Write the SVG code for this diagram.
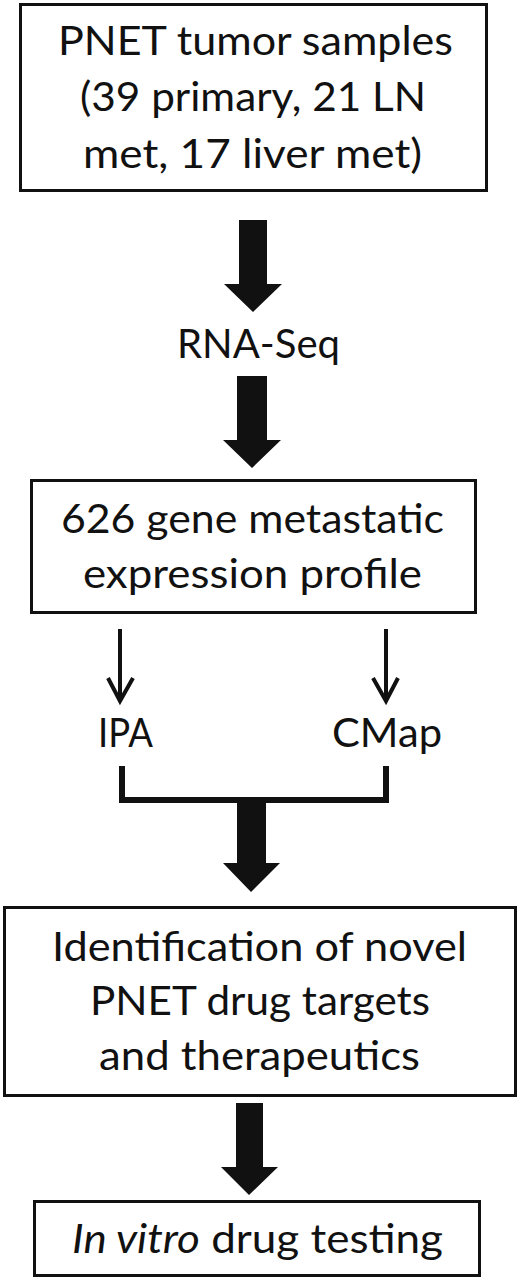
<svg xmlns="http://www.w3.org/2000/svg" width="520" height="1279" viewBox="0 0 520 1279">
<style>
.box{fill:#fff;stroke:#111;stroke-width:3}
.t{font-family:Lato,"Open Sans","Liberation Sans",sans-serif;font-size:40px;fill:#111;text-anchor:middle}
.thick{fill:#111}
.thin{fill:none;stroke:#111;stroke-width:4}
</style>
<rect width="520" height="1279" fill="#fff"/>
<g id="connectors">
<polygon class="thick" points="239,220 267,220 267,284 282,284 253,312 224,284 239,284"/>
<polygon class="thick" points="237,376 267,376 267,440 281,440 252,468 223,440 237,440"/>
<line class="thin" x1="120" y1="629" x2="120" y2="701"/>
<path class="thin" d="M108,678 L120,701 L133,678"/>
<line class="thin" x1="386" y1="629" x2="386" y2="701"/>
<path class="thin" d="M373,678 L386,701 L398,678"/>
<path d="M122,766 V800 H386 V766" fill="none" stroke="#111" stroke-width="6"/>
<polygon class="thick" points="237,800 266,800 266,863 280,863 251,892 223,863 237,863"/>
<polygon class="thick" points="236,1103 263,1103 263,1167 278,1167 249,1195 221,1167 236,1167"/>
</g>
<g id="n1">
<rect class="box" x="20.5" y="4.5" width="466" height="186"/>
<text class="t" x="255.5" y="55" textLength="395" lengthAdjust="spacingAndGlyphs">PNET tumor samples</text>
<text class="t" x="253" y="111" textLength="346" lengthAdjust="spacingAndGlyphs">(39 primary, 21 LN</text>
<text class="t" x="252.5" y="168" textLength="339" lengthAdjust="spacingAndGlyphs">met, 17 liver met)</text>
</g>
<g id="n2">
<text class="t" x="258.5" y="358" textLength="163" lengthAdjust="spacingAndGlyphs">RNA-Seq</text>
</g>
<g id="n3">
<rect class="box" x="31.5" y="480.5" width="444" height="132"/>
<text class="t" x="252.5" y="533" textLength="383" lengthAdjust="spacingAndGlyphs">626 gene metastatic</text>
<text class="t" x="252.5" y="588" textLength="339" lengthAdjust="spacingAndGlyphs">expression profile</text>
</g>
<g id="n4">
<text class="t" x="125.5" y="747" textLength="55" lengthAdjust="spacingAndGlyphs">IPA</text>
</g>
<g id="n5">
<text class="t" x="387" y="747" textLength="110" lengthAdjust="spacingAndGlyphs">CMap</text>
</g>
<g id="n6">
<rect class="box" x="4.5" y="907.5" width="511" height="188"/>
<text class="t" x="259.5" y="961" textLength="415" lengthAdjust="spacingAndGlyphs">Identification of novel</text>
<text class="t" x="260" y="1015" textLength="340" lengthAdjust="spacingAndGlyphs">PNET drug targets</text>
<text class="t" x="259.5" y="1070" textLength="321" lengthAdjust="spacingAndGlyphs">and therapeutics</text>
</g>
<g id="n7">
<rect class="box" x="34.5" y="1201.5" width="445" height="74"/>
<text class="t" x="257.5" y="1253" textLength="371" lengthAdjust="spacingAndGlyphs"><tspan font-style="italic">In vitro</tspan> drug testing</text>
</g>
</svg>
